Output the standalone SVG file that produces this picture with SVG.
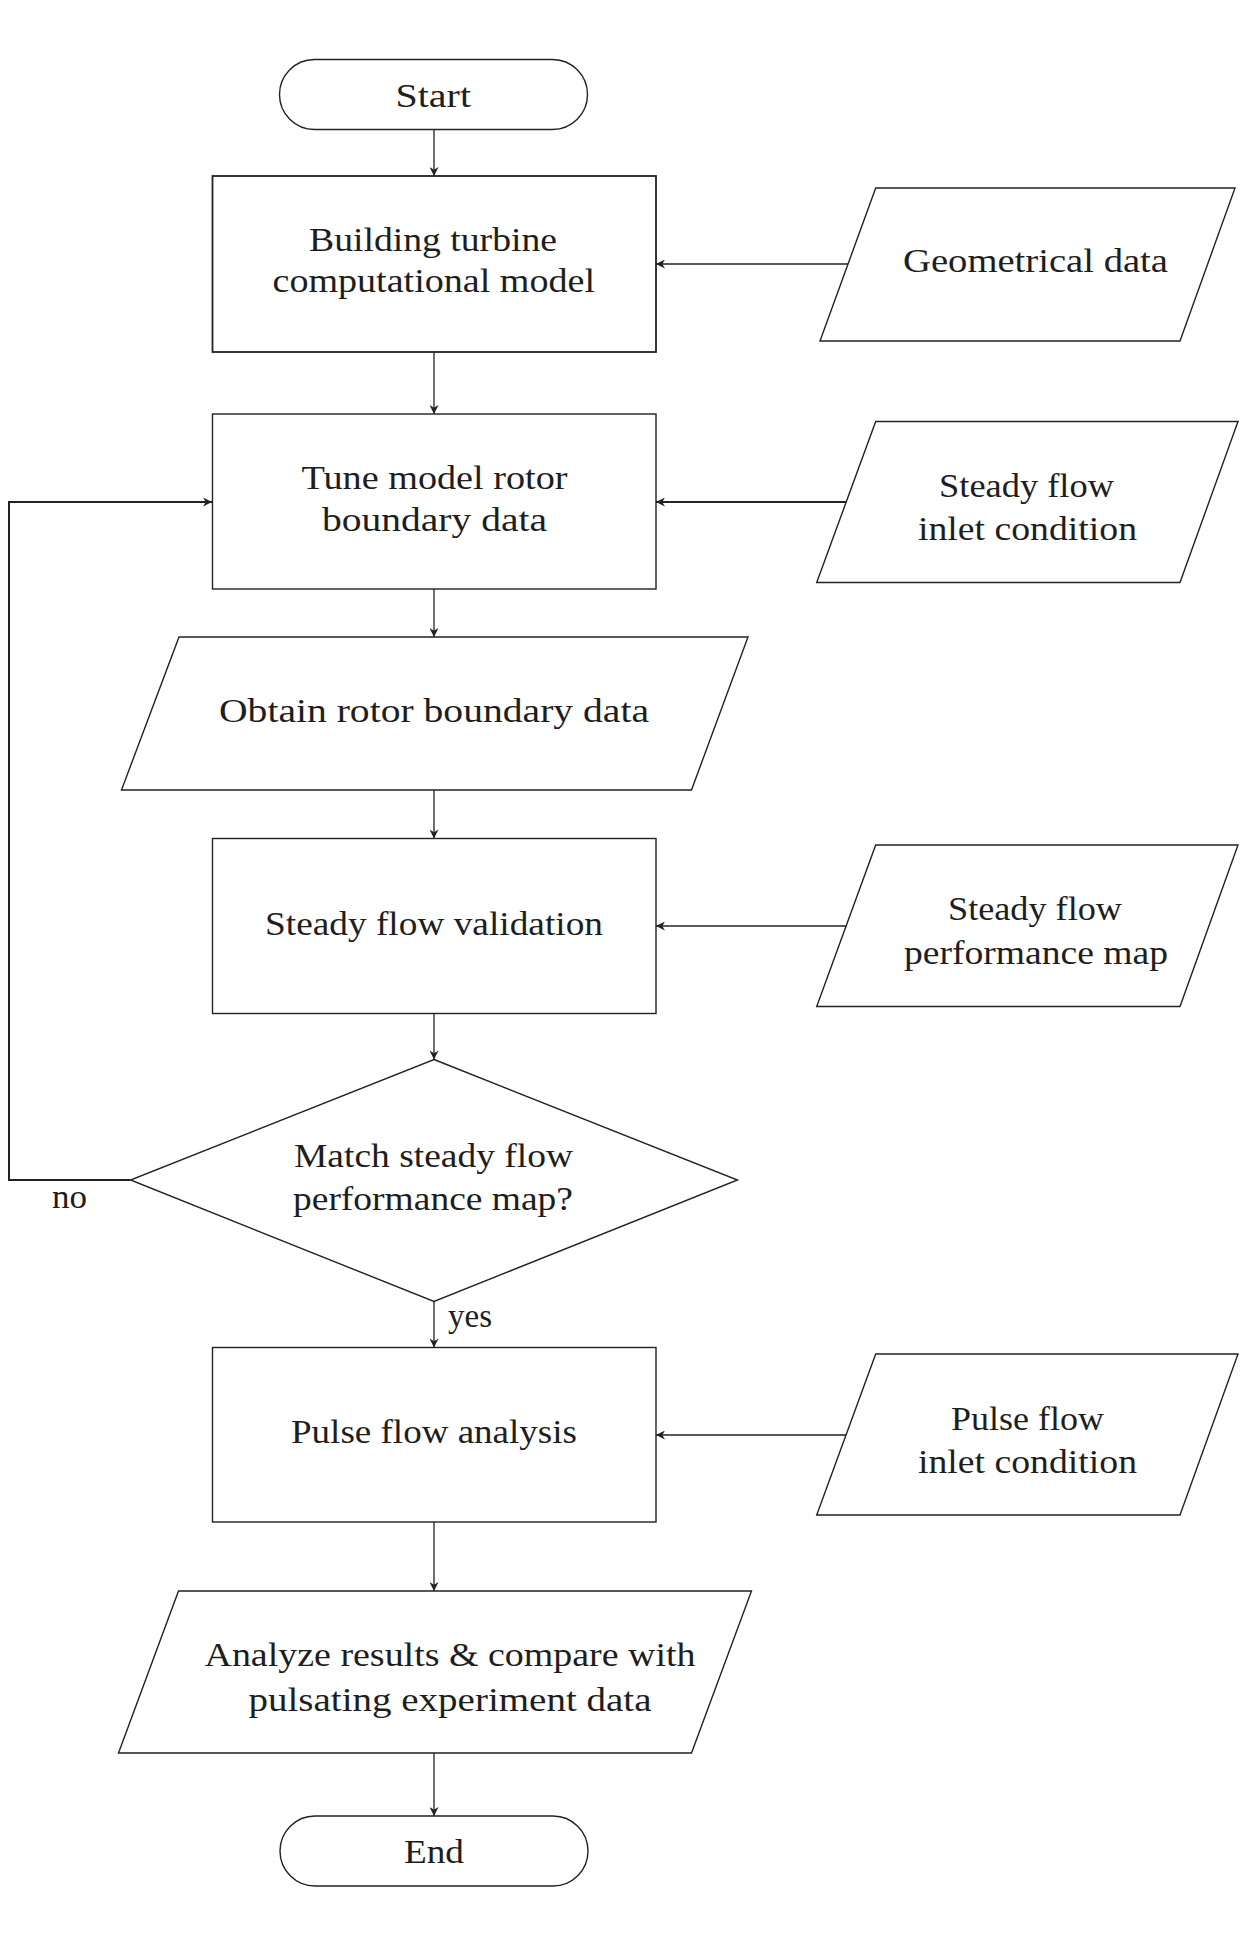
<svg xmlns="http://www.w3.org/2000/svg" width="1245" height="1938" viewBox="0 0 1245 1938">
<style>
.shape{fill:#fff;stroke:#222;stroke-width:1.4}
.conn{fill:none;stroke:#222;stroke-width:1.3}
.thick{stroke-width:2}
text{font-family:"Liberation Serif","Times New Roman",serif;font-size:34px;fill:#1e1e1e}
</style>
<defs>
<marker id="arr" viewBox="0 0 10 10" refX="10" refY="5" markerWidth="10" markerHeight="9" markerUnits="userSpaceOnUse" orient="auto">
<path d="M0,0 L10,5 L0,10 L3,5 z" fill="#222"/>
</marker>
</defs>
<rect width="1245" height="1938" fill="#fff"/>
<g id="connectors">
<line class="conn" x1="434" y1="129.5" x2="434" y2="176" marker-end="url(#arr)"/>
<line class="conn" x1="434" y1="352" x2="434" y2="414" marker-end="url(#arr)"/>
<line class="conn" x1="434" y1="589" x2="434" y2="637" marker-end="url(#arr)"/>
<line class="conn" x1="434" y1="790" x2="434" y2="838.5" marker-end="url(#arr)"/>
<line class="conn" x1="434" y1="1013.5" x2="434" y2="1059.5" marker-end="url(#arr)"/>
<line class="conn" x1="434" y1="1301.5" x2="434" y2="1347.5" marker-end="url(#arr)"/>
<line class="conn" x1="434" y1="1522" x2="434" y2="1591" marker-end="url(#arr)"/>
<line class="conn" x1="434" y1="1753" x2="434" y2="1816" marker-end="url(#arr)"/>
<line class="conn" x1="848" y1="264" x2="656" y2="264" marker-end="url(#arr)"/>
<line class="conn thick" x1="846" y1="502" x2="656" y2="502" marker-end="url(#arr)"/>
<line class="conn" x1="846" y1="926" x2="656" y2="926" marker-end="url(#arr)"/>
<line class="conn" x1="846" y1="1435" x2="656" y2="1435" marker-end="url(#arr)"/>
<polyline class="conn thick" points="130.5,1180 9,1180 9,502 212,502" marker-end="url(#arr)"/>
<text x="52" y="1208" textLength="35" lengthAdjust="spacingAndGlyphs">no</text>
<text x="448" y="1327" textLength="44" lengthAdjust="spacingAndGlyphs">yes</text>
</g>
<g id="start">
<rect class="shape" x="279.5" y="59.5" width="308" height="70" rx="35" ry="35"/>
<text x="395.5" y="107" textLength="75.5" lengthAdjust="spacingAndGlyphs">Start</text>
</g>
<g id="build">
<rect class="shape" x="212.5" y="176" width="443.5" height="176" style="stroke-width:1.8"/>
<text x="309" y="251" textLength="248" lengthAdjust="spacingAndGlyphs">Building turbine</text>
<text x="272.5" y="292" textLength="322.5" lengthAdjust="spacingAndGlyphs">computational model</text>
</g>
<g id="geom">
<polygon class="shape" points="875.7,188 1235,188 1180,341 820,341"/>
<text x="903" y="272" textLength="265" lengthAdjust="spacingAndGlyphs">Geometrical data</text>
</g>
<g id="tune">
<rect class="shape" x="212.5" y="414" width="443.5" height="175"/>
<text x="301.5" y="489" textLength="266" lengthAdjust="spacingAndGlyphs">Tune model rotor</text>
<text x="322" y="531" textLength="225" lengthAdjust="spacingAndGlyphs">boundary data</text>
</g>
<g id="steady-inlet">
<polygon class="shape" points="875.7,421.5 1238,421.5 1180,582.5 816.7,582.5"/>
<text x="939" y="497" textLength="175" lengthAdjust="spacingAndGlyphs">Steady flow</text>
<text x="918" y="540" textLength="219" lengthAdjust="spacingAndGlyphs">inlet condition</text>
</g>
<g id="obtain">
<polygon class="shape" points="179,637 748,637 691.5,790 121.5,790"/>
<text x="219" y="722" textLength="430" lengthAdjust="spacingAndGlyphs">Obtain rotor boundary data</text>
</g>
<g id="validation">
<rect class="shape" x="212.5" y="838.5" width="443.5" height="175"/>
<text x="265" y="935" textLength="338" lengthAdjust="spacingAndGlyphs">Steady flow validation</text>
</g>
<g id="steady-map">
<polygon class="shape" points="875.7,845 1238,845 1180,1006.5 816.7,1006.5"/>
<text x="948" y="920" textLength="174" lengthAdjust="spacingAndGlyphs">Steady flow</text>
<text x="904" y="964" textLength="264" lengthAdjust="spacingAndGlyphs">performance map</text>
</g>
<g id="decision">
<polygon class="shape" points="434,1059.5 737.5,1180 434,1301.5 130.5,1180"/>
<text x="294" y="1167" textLength="279" lengthAdjust="spacingAndGlyphs">Match steady flow</text>
<text x="293" y="1210" textLength="280" lengthAdjust="spacingAndGlyphs">performance map?</text>
</g>
<g id="pulse">
<rect class="shape" x="212.5" y="1347.5" width="443.5" height="174.5"/>
<text x="291" y="1443" textLength="286" lengthAdjust="spacingAndGlyphs">Pulse flow analysis</text>
</g>
<g id="pulse-inlet">
<polygon class="shape" points="875.7,1354 1238,1354 1180,1515 816.7,1515"/>
<text x="951" y="1430" textLength="153" lengthAdjust="spacingAndGlyphs">Pulse flow</text>
<text x="918" y="1473" textLength="219" lengthAdjust="spacingAndGlyphs">inlet condition</text>
</g>
<g id="analyze">
<polygon class="shape" points="178.5,1591 751.5,1591 691.5,1753 118.5,1753"/>
<text x="204.5" y="1666" textLength="491" lengthAdjust="spacingAndGlyphs">Analyze results &amp; compare with</text>
<text x="248.5" y="1711" textLength="403" lengthAdjust="spacingAndGlyphs">pulsating experiment data</text>
</g>
<g id="end">
<rect class="shape" x="280" y="1816" width="308" height="70" rx="35" ry="35"/>
<text x="404" y="1863" textLength="60" lengthAdjust="spacingAndGlyphs">End</text>
</g>
</svg>
